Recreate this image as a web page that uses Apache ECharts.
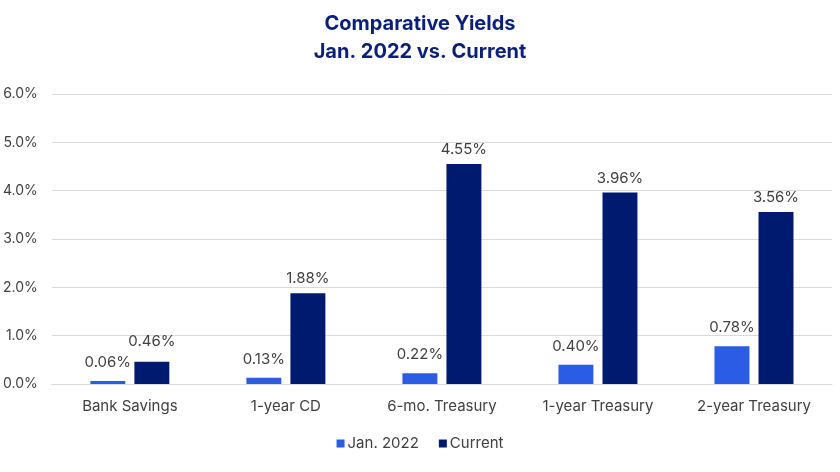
<!DOCTYPE html>
<html>
<head>
<meta charset="utf-8">
<script src="https://cdn.jsdelivr.net/npm/echarts@6/dist/echarts.min.js"></script>
<style>html,body{margin:0;padding:0;background:#fff}#c{width:840px;height:472px}</style>
</head>
<body>
<div id="c"></div>
<script>
const categories = ['Bank Savings', '1-year CD', '6-mo. Treasury', '1-year Treasury', '2-year Treasury'];
const jan2022 = [0.06, 0.13, 0.22, 0.40, 0.78];
const current = [0.46, 1.88, 4.55, 3.96, 3.56];
const seriesNames = ['Jan. 2022', 'Current'];
const chart = echarts.init(document.getElementById('c'));
const mkLabel = d => ({
  show: true, position: 'top', distance: d, color: '#404040', fontSize: 15,
  fontFamily: 'Inter', formatter: p => p.value.toFixed(2) + '%'
});
chart.setOption({
  animation: false,
  textStyle: { fontFamily: 'Inter' },
  title: {
    text: 'Comparative Yields\nJan. 2022 vs. Current',
    left: 'center', top: 5,
    textStyle: { color: '#0A1F7A', fontSize: 20, fontWeight: 'bold', fontFamily: 'Inter', lineHeight: 28 }
  },
  legend: {
    bottom: 16, left: 'center', icon: 'rect', itemWidth: 8, itemHeight: 8, itemGap: 20,
    textStyle: { color: '#404040', fontSize: 15, fontFamily: 'Inter', padding: [0, 0, 0, -2] },
    data: seriesNames
  },
  grid: { left: 50, right: 8, top: 94, bottom: 88 },
  xAxis: {
    type: 'category', data: categories,
    axisTick: { show: false },
    axisLine: { lineStyle: { color: '#d9d9d9' } },
    axisLabel: { color: '#404040', fontSize: 15, margin: 15, fontFamily: 'Inter' }
  },
  yAxis: {
    type: 'value', min: 0, max: 6, interval: 1,
    axisLabel: { color: '#404040', fontSize: 14, margin: 14, fontFamily: 'Inter', formatter: v => v.toFixed(1) + '%' },
    splitLine: { lineStyle: { color: '#d9d9d9' } },
    axisLine: { show: false }, axisTick: { show: false }
  },
  series: [
    { name: seriesNames[0], type: 'bar', data: jan2022, barWidth: '22.4%', barGap: '26%',
      itemStyle: { color: '#2B5CE6' }, label: mkLabel(11) },
    { name: seriesNames[1], type: 'bar',
      data: current.map((v, i) => i === 0 ? { value: v, label: { distance: 13 } } : v),
      barWidth: '22.4%',
      itemStyle: { color: '#001A70' }, label: mkLabel(7) }
  ]
});
</script>
</body>
</html>
